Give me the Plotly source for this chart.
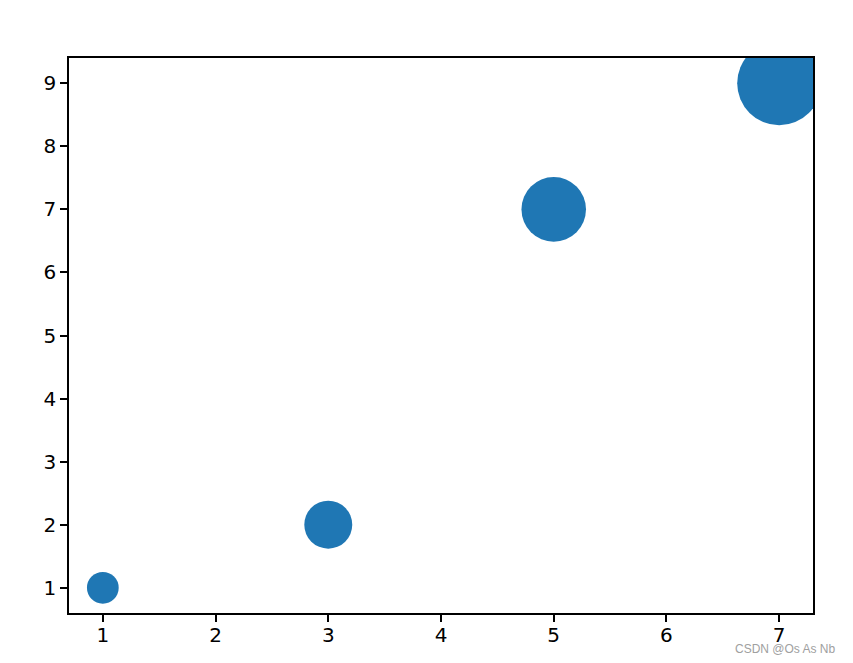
import math
import plotly.graph_objects as go

# data
x_values = [1, 3, 5, 7]
y_values = [1, 2, 7, 9]
bubble_s = [232, 530, 960, 1625]   # matplotlib-style marker areas (points^2)
x_ticks = [1, 2, 3, 4, 5, 6, 7]
y_ticks = [1, 2, 3, 4, 5, 6, 7, 8, 9]

PT2PX = 150 / 72
diam = [math.sqrt(s) * PT2PX for s in bubble_s]

fig = go.Figure()
fig.add_trace(go.Scatter(
    x=x_values, y=y_values, mode="markers",
    marker=dict(size=diam, color="#1f77b4", opacity=1, line=dict(width=0)),
    cliponaxis=True, showlegend=False, hoverinfo="skip",
))

axis_common = dict(
    showline=True, linecolor="black", linewidth=1.5, mirror=True,
    ticks="outside", ticklen=7, tickwidth=1.5, tickcolor="black",
    showgrid=False, zeroline=False,
    tickfont=dict(family="DejaVu Sans", size=20, color="black"),
)
fig.update_xaxes(range=[0.7, 7.3], tickvals=x_ticks, ticklabelstandoff=-4, **axis_common)
fig.update_yaxes(range=[0.6, 9.4], tickvals=y_ticks, **axis_common)

fig.add_annotation(
    text="CSDN @Os As Nb", xref="paper", yref="paper",
    x=1.0, y=0, xshift=25, yshift=-36, xanchor="right", yanchor="middle",
    showarrow=False, font=dict(family="Liberation Sans", size=12, color="#a0a0a0"),
)

fig.update_layout(
    width=853, height=663, autosize=False,
    margin=dict(l=61, r=48, t=50, b=58),
    plot_bgcolor="white", paper_bgcolor="white",
)
fig.write_html("out.html")
